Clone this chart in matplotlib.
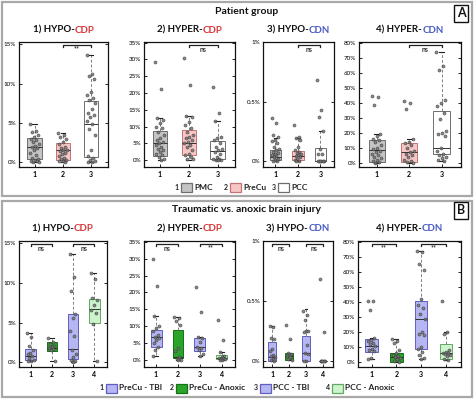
import numpy as np
import matplotlib
matplotlib.use("Agg")
import matplotlib.pyplot as plt
from matplotlib.patches import Rectangle
from matplotlib.ticker import FuncFormatter, MultipleLocator

plt.rcParams["font.family"] = ["Lato", "DejaVu Sans"]

# ---------------------------------------------------------------
# values are in percent
# box tuples: (whisker low, q1, median, q3, whisker high)
# ---------------------------------------------------------------

# panel A : PMC / PreCu / PCC
A_HYPO_CDP = [
    [4.9, 4.0, 3.8, 3.5, 3.2, 3.0, 2.8, 2.6, 2.3, 2.1, 2.0, 1.8, 1.5, 1.2, 0.9, 0.6, 0.4, 0.3, 0.2, 0.1, 0.05, 0.0],
    [3.7, 3.5, 3.2, 3.0, 2.6, 2.3, 2.0, 1.8, 1.6, 1.5, 1.4, 1.2, 1.0, 0.8, 0.5, 0.4, 0.3, 0.2, 0.1, 0.05],
    [13.7, 11.2, 11.0, 10.6, 9.0, 8.5, 8.2, 7.9, 7.6, 6.8, 6.3, 6.0, 5.8, 5.2, 4.9, 4.2, 3.5, 1.5, 0.8, 0.5, 0.3, 0.1, 0.0, 0.0],
]
A_HYPO_CDP_BOX = [(0.0, 0.45, 2.0, 3.05, 4.9), (0.0, 0.35, 1.55, 2.4, 3.7), (0.0, 0.7, 4.9, 7.8, 13.7)]

A_HYPER_CDP = [
    [29.3, 21.2, 12.5, 12.0, 11.0, 10.0, 9.5, 8.5, 7.5, 6.5, 6.0, 5.5, 5.0, 4.5, 4.0, 3.5, 3.0, 2.5, 2.0, 1.5, 1.0, 0.5, 0.2],
    [30.5, 22.3, 13.2, 12.8, 11.5, 10.5, 9.5, 8.5, 7.5, 7.0, 6.5, 6.0, 5.5, 5.0, 4.5, 4.0, 3.0, 2.0, 1.5, 1.0, 0.5, 0.3],
    [21.8, 14.0, 11.8, 7.0, 6.5, 6.0, 5.0, 4.0, 3.5, 3.0, 2.5, 2.0, 1.0, 0.5, 0.3, 0.2, 0.1, 0.0],
]
A_HYPER_CDP_BOX = [(0.0, 1.3, 5.1, 8.8, 12.5), (0.0, 1.5, 5.1, 8.9, 13.2), (0.0, 0.5, 2.8, 5.8, 11.8)]

A_HYPO_CDN = [
    [0.36, 0.32, 0.22, 0.20, 0.18, 0.17, 0.15, 0.12, 0.10, 0.09, 0.08, 0.07, 0.06, 0.05, 0.04, 0.03, 0.02, 0.01, 0.0, 0.0],
    [0.30, 0.20, 0.19, 0.18, 0.12, 0.09, 0.08, 0.07, 0.06, 0.05, 0.04, 0.03, 0.02, 0.01, 0.0, 0.0],
    [0.68, 0.43, 0.37, 0.25, 0.10, 0.06, 0.06, 0.0, 0.0, 0.0, 0.0, 0.0, 0.0],
]
A_HYPO_CDN_BOX = [(0.0, 0.005, 0.035, 0.09, 0.19), (0.0, 0.005, 0.04, 0.085, 0.19), (0.0, 0.0, 0.0, 0.11, 0.25)]

A_HYPER_CDN = [
    [44.5, 43.8, 38.5, 19.0, 18.0, 16.0, 15.0, 14.0, 12.0, 10.0, 9.0, 8.0, 7.0, 6.0, 5.0, 4.0, 3.0, 2.0, 1.0, 0.5, 0.0],
    [41.0, 40.0, 35.5, 15.5, 14.0, 13.0, 12.0, 10.0, 8.0, 7.0, 6.0, 5.0, 4.0, 2.0, 1.0, 0.5, 0.0],
    [74.0, 64.5, 61.5, 42.0, 40.0, 37.5, 33.0, 29.0, 21.0, 20.0, 19.0, 18.0, 10.0, 8.0, 6.0, 5.0, 4.0, 3.0, 2.0, 1.0],
]
A_HYPER_CDN_BOX = [(0.0, 0.5, 8.2, 15.0, 19.0), (0.0, 0.5, 7.1, 13.3, 15.5), (1.0, 5.5, 9.5, 34.5, 74.0)]

# panel B : PreCu-TBI / PreCu-Anoxic / PCC-TBI / PCC-Anoxic
B_HYPO_CDP = [
    [3.7, 3.2, 2.0, 1.5, 1.2, 1.0, 0.8, 0.5, 0.3, 0.2, 0.1],
    [3.1, 2.5, 2.3, 2.0, 1.9, 1.8, 1.7, 1.5, 0.1],
    [13.7, 10.8, 9.0, 6.1, 5.6, 4.0, 3.3, 1.5, 1.0, 0.6, 0.3, 0.1, 0.0],
    [11.3, 10.5, 8.1, 7.8, 7.2, 6.6, 6.2, 4.8, 0.1],
]
B_HYPO_CDP_BOX = [(0.1, 0.25, 0.8, 1.7, 3.7), (0.1, 1.4, 1.8, 2.5, 3.1), (0.0, 0.45, 1.7, 6.1, 13.7), (0.1, 4.9, 6.7, 8.0, 11.3)]

B_HYPER_CDP = [
    [30.0, 22.0, 13.0, 10.0, 9.5, 8.5, 7.5, 7.0, 6.5, 6.0, 5.0, 4.0, 3.0, 1.2],
    [12.7, 12.5, 11.5, 10.5, 3.5, 2.8, 1.0, 0.5, 0.2, 0.0],
    [21.6, 14.2, 6.9, 6.5, 5.5, 4.0, 3.5, 3.0, 1.8, 1.2],
    [11.8, 6.0, 2.5, 1.3, 1.0, 0.8, 0.6, 0.5, 0.3, 0.2, 0.1],
]
B_HYPER_CDP_BOX = [(1.2, 3.8, 7.0, 9.0, 13.0), (0.0, 0.6, 1.0, 8.9, 12.7), (1.2, 2.8, 3.8, 6.6, 6.9), (0.1, 0.3, 0.6, 1.5, 2.5)]

B_HYPO_CDN = [
    [0.29, 0.28, 0.19, 0.18, 0.10, 0.08, 0.05, 0.04, 0.03, 0.02, 0.01, 0.0],
    [0.30, 0.18, 0.07, 0.06, 0.05, 0.04, 0.03, 0.02, 0.01],
    [0.42, 0.38, 0.34, 0.25, 0.25, 0.24, 0.13, 0.07, 0.06, 0.0, 0.0],
    [0.68, 0.24, 0.0, 0.0, 0.0, 0.0, 0.0, 0.0],
]
B_HYPO_CDN_BOX = [(0.0, 0.0, 0.035, 0.16, 0.29), (0.01, 0.01, 0.04, 0.065, 0.07), (0.0, 0.0, 0.065, 0.21, 0.43), (0.0, 0.0, 0.0, 0.0, 0.0)]

B_HYPER_CDN = [
    [41.0, 40.5, 35.0, 16.0, 15.0, 14.0, 13.0, 12.0, 11.0, 9.0, 8.0, 7.5, 3.0, 2.0],
    [15.5, 14.0, 13.0, 8.0, 6.0, 5.0, 4.5, 3.5, 3.0, 2.0, 1.0, 0.5],
    [74.0, 73.0, 65.0, 61.0, 42.0, 38.0, 36.0, 32.0, 29.0, 20.0, 19.0, 18.0, 10.0, 9.0, 7.0, 5.0, 3.0, 2.0],
    [40.5, 20.5, 19.0, 8.0, 7.0, 6.5, 6.0, 5.5, 5.0, 4.5, 2.0, 1.5],
]
B_HYPER_CDN_BOX = [(2.0, 7.0, 11.0, 15.5, 16.0), (0.5, 0.5, 3.5, 6.5, 15.5), (2.0, 9.0, 28.5, 41.0, 74.0), (1.5, 2.0, 6.5, 12.5, 20.5)]

# significance brackets: (group a, group b, label)
A_HYPO_CDP_SIG = [(2, 3, "**")]
A_HYPER_CDP_SIG = [(2, 3, "ns")]
A_HYPO_CDN_SIG = [(2, 3, "ns")]
A_HYPER_CDN_SIG = [(2, 3, "ns")]
B_HYPO_CDP_SIG = [(1, 2, "ns"), (3, 4, "ns")]
B_HYPER_CDP_SIG = [(1, 2, "ns"), (3, 4, "**")]
B_HYPO_CDN_SIG = [(1, 2, "ns"), (3, 4, "ns")]
B_HYPER_CDN_SIG = [(1, 2, "**"), (3, 4, "**")]

TITLES = [("1) HYPO-", "CDP"), ("2) HYPER-", "CDP"), ("3) HYPO-", "CDN"), ("4) HYPER-", "CDN")]
LEG_A_LABELS = ["PMC", "PreCu", "PCC"]
LEG_B_LABELS = ["PreCu - TBI", "PreCu - Anoxic", "PCC - TBI", "PCC - Anoxic"]

# ---------------------------------------------------------------
# styling
# ---------------------------------------------------------------
RED = "#d9383a"
BLUE = "#4b5cc4"
A_FILL = ["#c4c4c4", "#f6c6c6", "#ffffff"]
A_EDGE = ["#6e6e6e", "#c27474", "#6e6e6e"]
B_FILL = ["#b6b6f2", "#2aa52a", "#b6b6f2", "#cdf3cd"]
B_EDGE = ["#5f5fc0", "#167016", "#5f5fc0", "#62a862"]

# y axis: (limits, tick step)
YAX_HYPO_CDP = ((-0.6, 15.3), 5)
YAX_HYPER_CDP = ((-2.0, 35.2), 5)
YAX_HYPO_CDN = ((-0.05, 1.0), 0.5)
YAX_HYPER_CDN = ((-3.0, 80.5), 10)

W, H = 474, 399
fig = plt.figure(figsize=(W / 100, H / 100), dpi=100)


def px_axes(left, top, right, bottom):
    """
    Axes placed with pixel edges
    """
    return fig.add_axes([left / W, 1 - bottom / H, (right - left) / W, (bottom - top) / H])


def draw_box_panel(ax, groups, boxes, fills, edges, yax, sigs):
    """
    Boxes, jittered points and brackets
    """
    n = len(groups)
    stats = []
    for lo, q1, med, q3, hi in boxes:
        stats.append(dict(whislo=lo, q1=q1, med=med, q3=q3, whishi=hi, fliers=[]))

    bp = ax.bxp(stats, positions=np.arange(1, n + 1), widths=0.5,
                patch_artist=True, showfliers=False,
                whiskerprops=dict(color="#808080", lw=0.7, ls=(0, (3, 2))),
                capprops=dict(color="#222222", lw=0.8),
                medianprops=dict(color="#333333", lw=0.7))
    for patch, fc, ec in zip(bp["boxes"], fills, edges):
        patch.set_facecolor(fc)
        patch.set_edgecolor(ec)
        patch.set_linewidth(0.7)
    for cap in bp["caps"]:
        c = np.mean(cap.get_xdata())
        cap.set_xdata([c - 0.08, c + 0.08])

    for i, vals in enumerate(groups):
        k = np.arange(len(vals))
        jit = ((k * 0.618) % 1.0 - 0.5) * 0.32
        ax.scatter(i + 1 + jit, vals, s=5, facecolor="#777777",
                   edgecolor="#2e2e2e", linewidth=0.35, alpha=0.85, zorder=4)

    (y0, y1), step = yax
    ax.set_ylim(y0, y1)
    ax.set_xlim(0.45, n + 0.6)
    ax.yaxis.set_major_locator(MultipleLocator(step))
    ax.yaxis.set_major_formatter(FuncFormatter(lambda v, _: f"{v:g}%"))
    ax.set_xticks(np.arange(1, n + 1))
    ax.tick_params(axis="y", direction="in", length=2, width=0.6,
                   right=True, labelsize=4.5, pad=2)
    ax.tick_params(axis="x", direction="in", length=2, width=0.6,
                   labelsize=5, pad=3)
    for lab in ax.get_xticklabels():
        lab.set_fontweight("bold")
    for sp in ax.spines.values():
        sp.set_linewidth(0.9)
        sp.set_color("#111111")

    span = y1 - y0
    ybar = y1 - 0.025 * span
    for a, b, txt in sigs:
        ax.plot([a, a, b, b], [ybar - 0.015 * span, ybar, ybar, ybar - 0.015 * span],
                color="#222222", lw=0.9, zorder=5)
        ax.text((a + b) / 2, ybar - 0.004 * span, txt, ha="center", va="top",
                fontsize=5, fontweight="bold", color="#333333")


def two_color_title(ax, prefix, suffix, color):
    """
    Subplot title with coloured suffix
    """
    r = fig.canvas.get_renderer()
    kw = dict(transform=ax.transAxes, va="bottom", fontsize=7, fontweight="bold")
    t1 = ax.text(0.5, 1.06, prefix, ha="right", color="#111111", **kw)
    t2 = ax.text(0.5, 1.06, suffix, ha="left", color=color, **kw)
    w1 = t1.get_window_extent(r).width
    w2 = t2.get_window_extent(r).width
    axw = ax.get_window_extent(r).width
    shift = (w1 - w2) / 2 / axw
    t1.set_x(0.5 + shift)
    t2.set_x(0.5 + shift)


def panel_frame(top, bottom, title, title_y, letter, letter_y):
    """
    Gray panel border, title and letter box
    """
    fig.patches.append(Rectangle((2 / W, 1 - bottom / H), 470 / W, (bottom - top) / H,
                                 transform=fig.transFigure, fill=False,
                                 edgecolor="#a8a8a8", lw=1.6))
    fig.text(247 / W, 1 - title_y / H, title, ha="center", va="center",
             fontsize=7.5, fontweight="bold", color="#111111")
    fig.text(461 / W, 1 - letter_y / H, letter, ha="center", va="center",
             fontsize=9, fontweight="bold", color="#111111",
             bbox=dict(boxstyle="square,pad=0.2", fc="white", ec="#111111", lw=1.0))


def legend_row(y, labels, fills, edges, xs):
    """
    Numbered legend drawn in figure pixels
    """
    for i, (lab, fc, ec, x) in enumerate(zip(labels, fills, edges, xs)):
        fig.text(x / W, 1 - y / H, str(i + 1), ha="right", va="center",
                 fontsize=5, fontweight="bold", color="#222222")
        fig.patches.append(Rectangle(((x + 2) / W, 1 - (y + 4.5) / H), 11 / W, 9 / H,
                                     transform=fig.transFigure, facecolor=fc,
                                     edgecolor=ec, lw=0.9))
        fig.text((x + 15) / W, 1 - y / H, lab, ha="left", va="center",
                 fontsize=6, fontweight="bold", color="#222222")


# ---------------------------------------------------------------
# panel A
# ---------------------------------------------------------------
panel_frame(2, 196, "Patient group", 12, "A", 13)

a_edges = [(19, 108), (144, 235), (263, 334), (359, 461)]
a_data = [
    (A_HYPO_CDP, A_HYPO_CDP_BOX, YAX_HYPO_CDP, A_HYPO_CDP_SIG),
    (A_HYPER_CDP, A_HYPER_CDP_BOX, YAX_HYPER_CDP, A_HYPER_CDP_SIG),
    (A_HYPO_CDN, A_HYPO_CDN_BOX, YAX_HYPO_CDN, A_HYPO_CDN_SIG),
    (A_HYPER_CDN, A_HYPER_CDN_BOX, YAX_HYPER_CDN, A_HYPER_CDN_SIG),
]
for (l, r), (g, bx, yax, sig), (pre, suf) in zip(a_edges, a_data, TITLES):
    ax = px_axes(l, 42, r, 167)
    draw_box_panel(ax, g, bx, A_FILL, A_EDGE, yax, sig)
    two_color_title(ax, pre, suf, RED if suf == "CDP" else BLUE)

legend_row(187, LEG_A_LABELS, A_FILL, A_EDGE, [179, 228, 276])

# ---------------------------------------------------------------
# panel B
# ---------------------------------------------------------------
panel_frame(201, 397, "Traumatic vs. anoxic brain injury", 210, "B", 210)

b_edges = [(19, 107), (144, 235), (263, 333), (358, 461)]
b_data = [
    (B_HYPO_CDP, B_HYPO_CDP_BOX, YAX_HYPO_CDP, B_HYPO_CDP_SIG),
    (B_HYPER_CDP, B_HYPER_CDP_BOX, YAX_HYPER_CDP, B_HYPER_CDP_SIG),
    (B_HYPO_CDN, B_HYPO_CDN_BOX, YAX_HYPO_CDN, B_HYPO_CDN_SIG),
    (B_HYPER_CDN, B_HYPER_CDN_BOX, YAX_HYPER_CDN, B_HYPER_CDN_SIG),
]
for (l, r), (g, bx, yax, sig), (pre, suf) in zip(b_edges, b_data, TITLES):
    ax = px_axes(l, 241, r, 367)
    draw_box_panel(ax, g, bx, B_FILL, B_EDGE, yax, sig)
    two_color_title(ax, pre, suf, RED if suf == "CDP" else BLUE)

legend_row(388, LEG_B_LABELS, B_FILL, B_EDGE, [104, 174, 258, 330])

fig.savefig("out.png", dpi=100)
